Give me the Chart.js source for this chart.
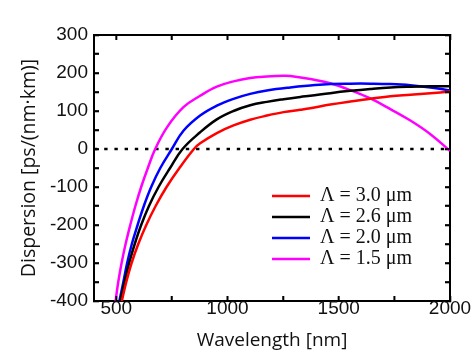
<!DOCTYPE html>
<html><head><meta charset="utf-8">
<script src="https://cdn.jsdelivr.net/npm/chart.js@4/dist/chart.umd.min.js"></script>
<style>html,body{margin:0;padding:0;background:#fff}</style>
</head><body><canvas id="c" width="474" height="356"></canvas>
<script>
// ---- data ----
const seriesLabels = ['\u039B = 3.0 \u03BCm', '\u039B = 2.6 \u03BCm', '\u039B = 2.0 \u03BCm', '\u039B = 1.5 \u03BCm'];
const seriesColors = ['#ff0000', '#000000', '#0000ff', '#ff00ff'];

const wl30 = [525, 545, 569, 599, 635, 677, 726, 784, 849, 877, 952, 1027, 1102, 1177, 1252, 1327, 1372, 1462, 1552, 1642, 1732, 1822, 1912, 2000];
const d30  = [-400, -350, -300, -250, -200, -150, -100, -50, 0, 15, 42, 62, 77, 88, 97, 103, 107, 117, 125, 132, 139, 143, 147, 151];

const wl26 = [518, 537, 558, 583, 612, 647, 690, 742, 798, 877, 952, 1027, 1102, 1177, 1252, 1327, 1372, 1462, 1552, 1642, 1732, 1822, 1912, 2000];
const d26  = [-400, -350, -300, -250, -200, -150, -100, -50, 0, 44, 78, 100, 115, 124, 131, 137, 140, 147, 153, 158, 162, 164, 165, 165];

const wl20 = [514, 532, 549, 570, 596, 624, 657, 698, 750, 802, 877, 952, 1027, 1102, 1177, 1282, 1372, 1462, 1552, 1642, 1732, 1822, 1912, 2000];
const d20  = [-400, -350, -300, -250, -200, -150, -100, -50, 0, 48, 88, 114, 132, 145, 154, 162, 167, 171, 172, 172, 171, 168, 162, 154];

const wl15 = [497, 509, 524, 542, 563, 586, 612, 642, 675, 728, 802, 877, 952, 1027, 1102, 1177, 1252, 1282, 1372, 1462, 1552, 1642, 1732, 1822, 1912, 2000];
const d15  = [-400, -350, -300, -250, -200, -150, -100, -50, 0, 57, 110, 140, 164, 178, 187, 191, 193, 192, 184, 173, 155, 133, 105, 75, 39, -5];

const zeroLineX = [400, 2000];
const zeroLineY = [0, 0];

const xRange = [400, 2000];
const yRange = [-400, 300];
const xTickValues = [500, 750, 1000, 1250, 1500, 1750, 2000];
const xLabelValues = [500, 1000, 1500, 2000];
const yTickValues = [-400, -350, -300, -250, -200, -150, -100, -50, 0, 50, 100, 150, 200, 250, 300];
const yLabelValues = [-400, -300, -200, -100, 0, 100, 200, 300];

// ---- build ----
const pts = (xs, ys) => xs.map((x, i) => ({x: x, y: ys[i]}));
const seriesX = [wl30, wl26, wl20, wl15];
const seriesY = [d30, d26, d20, d15];

const datasets = seriesLabels.map((lab, i) => ({
  label: lab,
  data: pts(seriesX[i], seriesY[i]),
  borderColor: seriesColors[i],
  borderWidth: 2.5,
  pointRadius: 0,
  fill: false,
  tension: 0.4
}));
datasets.push({
  label: 'zero',
  data: pts(zeroLineX, zeroLineY),
  borderColor: '#000',
  borderWidth: 2.6,
  borderDash: [3.4, 6.8],
  pointRadius: 0,
  fill: false,
  tension: 0
});

const legendPlugin = {
  id: 'insideLegend',
  afterDraw(chart) {
    const ctx = chart.ctx, a = chart.chartArea;
    const sx = chart.scales.x, sy = chart.scales.y;
    ctx.save();
    ctx.font = '20px "Liberation Serif", "Times New Roman", serif';
    ctx.textBaseline = 'middle';
    ctx.textAlign = 'left';
    seriesLabels.forEach((lab, i) => {
      const yy = a.top + 161 + i * 21;
      ctx.strokeStyle = seriesColors[i];
      ctx.lineWidth = 2.5;
      ctx.beginPath();
      ctx.moveTo(a.left + 178, yy); ctx.lineTo(a.left + 216, yy);
      ctx.stroke();
      ctx.fillStyle = '#111';
      ctx.fillText(lab, a.left + 226, yy);
    });
    // inward tick marks on all four sides
    ctx.fillStyle = '#000';
    const L = 5, W = 1.6;
    xTickValues.forEach(v => {
      const px = sx.getPixelForValue(v);
      ctx.fillRect(px - W / 2, a.bottom - L, W, L);
      ctx.fillRect(px - W / 2, a.top, W, L);
    });
    yTickValues.forEach(v => {
      const py = sy.getPixelForValue(v);
      ctx.fillRect(a.left, py - W / 2, L, W);
      ctx.fillRect(a.right - L, py - W / 2, L, W);
    });
    ctx.restore();
  }
};

const yTickFont = {family: '"Liberation Sans", Arial, sans-serif', size: 19};
const xTickFont = {family: '"Liberation Sans", Arial, sans-serif', size: 19, lineHeight: 1.3};
const gridIn = {display: true, drawOnChartArea: false, drawTicks: true, tickLength: -5, tickWidth: 1.6, tickColor: '#000', color: '#000'};
const borderOn = {display: true, width: 2, color: '#000'};
const setTicks = vals => (s => { s.ticks = vals.map(v => ({value: v})); });

new Chart(document.getElementById('c'), {
  type: 'line',
  data: {datasets: datasets},
  plugins: [legendPlugin],
  options: {
    responsive: false,
    animation: false,
    devicePixelRatio: 1,
    layout: {padding: {top: 35, right: 24, left: 0, bottom: 0}},
    plugins: {legend: {display: false}, tooltip: {enabled: false}},
    scales: {
      x: {
        type: 'linear', position: 'bottom', min: xRange[0], max: xRange[1],
        grid: gridIn, border: borderOn,
        afterBuildTicks: setTicks(xTickValues),
        ticks: {
          autoSkip: false, maxRotation: 0, padding: 0,
          color: '#111', font: xTickFont,
          callback: v => (xLabelValues.includes(v) ? String(v) : '')
        },
        title: {display: true, text: 'Wavelength [nm]', color: '#111',
          font: {family: '"Open Sans", sans-serif', size: 19}, padding: {top: 0, bottom: 4}},
        afterFit: s => { s.height = 55; }
      },
      x2: {
        type: 'linear', position: 'top', min: xRange[0], max: xRange[1],
        grid: gridIn, border: borderOn,
        afterBuildTicks: setTicks(xTickValues),
        ticks: {display: false},
        afterFit: s => { s.height = 0; }
      },
      y: {
        type: 'linear', position: 'left', min: yRange[0], max: yRange[1],
        grid: gridIn, border: borderOn,
        afterBuildTicks: setTicks(yTickValues),
        ticks: {
          autoSkip: false, padding: 11,
          color: '#111', font: yTickFont,
          callback: v => (yLabelValues.includes(v) ? String(v) : '')
        },
        title: {display: true, text: 'Dispersion [ps/(nm\u00B7km)]', color: '#111',
          font: {family: '"Open Sans", sans-serif', size: 19.5}, padding: {top: 18, bottom: 0}},
        afterFit: s => { s.width = 94; }
      },
      y2: {
        type: 'linear', position: 'right', min: yRange[0], max: yRange[1],
        grid: gridIn, border: borderOn,
        afterBuildTicks: setTicks(yTickValues),
        ticks: {display: false},
        afterFit: s => { s.width = 0; }
      }
    }
  }
});
</script>
</body></html>
